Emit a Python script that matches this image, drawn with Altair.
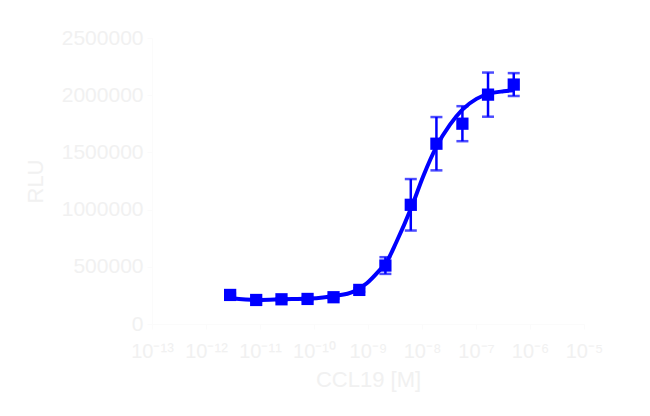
import altair as alt
import pandas as pd

# measured points (concentration in M, mean signal, SD)
conc = [2.8e-12, 8.5e-12, 2.5e-11, 7.6e-11, 2.3e-10, 6.9e-10,
        2.1e-9, 6.2e-9, 1.85e-8, 5.6e-8, 1.67e-7, 5.0e-7]
mean = [254000, 210000, 216000, 219000, 234000, 298000,
        511000, 1042000, 1576000, 1751000, 2005000, 2093000]
sd = [12000, 10000, 10000, 10000, 12000, 15000,
      73000, 225000, 233000, 153000, 193000, 100000]

# fitted curve
curve_x = [3.0e-12, 9.3e-12, 2.7e-11, 8.1e-11, 2.4e-10, 5.4e-10, 9.5e-10,
           1.66e-9, 2.14e-9, 3.39e-9, 6.3e-9, 1.05e-8, 1.86e-8, 3.3e-8,
           5.6e-8, 1.02e-7, 1.7e-7, 3.24e-7, 5.0e-7]
curve_y = [225000, 210000, 216000, 222000, 245000, 283000, 356000,
           473000, 532000, 721000, 1013000, 1290000, 1553000, 1743000,
           1874000, 1968000, 2011000, 2034000, 2043000]

x_ticks = [1e-13, 1e-12, 1e-11, 1e-10, 1e-9, 1e-8, 1e-7, 1e-6, 1e-5]
x_tick_labels = ["10⁻¹³", "10⁻¹²", "10⁻¹¹", "10⁻¹⁰", "10⁻⁹", "10⁻⁸", "10⁻⁷", "10⁻⁶", "10⁻⁵"]
y_ticks = [0, 500000, 1000000, 1500000, 2000000, 2500000]

x_title = "CCL19 [M]"
y_title = "RLU"

pts = pd.DataFrame({"conc": conc, "mean": mean, "sd": sd})
pts["lo"] = pts["mean"] - pts["sd"]
pts["hi"] = pts["mean"] + pts["sd"]
fit = pd.DataFrame({"conc": curve_x, "y": curve_y})

BLUE = "#0000ff"
TXT = "#f1f1f1"
FONT = "Liberation Sans"

label_expr = "[" + ",".join("'" + s + "'" for s in x_tick_labels) + "][round(log(datum.value)/LN10) + 13]"

xscale = alt.Scale(type="log", domain=[1e-13, 1e-5])
yscale = alt.Scale(domain=[0, 2500000])

xaxis = alt.Axis(values=x_ticks, labelExpr=label_expr, title=x_title, grid=False,
                 labelFontSize=20, titleFontSize=22, labelPadding=12, titlePadding=8,
                 labelOverlap=False, labelFlush=False,
                 labelColor=TXT, titleColor=TXT, domainColor="#fbfbfb", tickColor="#fbfbfb",
                 labelFont=FONT, titleFont=FONT, titleFontWeight="normal", tickSize=5)
yaxis = alt.Axis(values=y_ticks, format="d", title=y_title, grid=False,
                 labelFontSize=21, titleFontSize=22, labelPadding=4, titlePadding=14,
                 labelOverlap=False, labelFlush=False,
                 labelColor=TXT, titleColor=TXT, domainColor="#fbfbfb", tickColor="#fbfbfb",
                 labelFont=FONT, titleFont=FONT, titleFontWeight="normal", tickSize=5)

line = alt.Chart(fit).mark_line(color=BLUE, strokeWidth=4, interpolate="monotone").encode(
    x=alt.X("conc:Q", scale=xscale, axis=xaxis),
    y=alt.Y("y:Q", scale=yscale, axis=yaxis),
)

bars = alt.Chart(pts).mark_rule(color=BLUE, strokeWidth=2.5).encode(
    x=alt.X("conc:Q", scale=xscale),
    y=alt.Y("lo:Q", scale=yscale),
    y2="hi:Q",
)
cap_lo = alt.Chart(pts).mark_tick(color=BLUE, orient="horizontal", size=12, thickness=2.5).encode(
    x=alt.X("conc:Q", scale=xscale),
    y=alt.Y("lo:Q", scale=yscale),
)
cap_hi = alt.Chart(pts).mark_tick(color=BLUE, orient="horizontal", size=12, thickness=2.5).encode(
    x=alt.X("conc:Q", scale=xscale),
    y=alt.Y("hi:Q", scale=yscale),
)
marks = alt.Chart(pts).mark_point(shape="square", filled=True, color=BLUE, size=150, opacity=1).encode(
    x=alt.X("conc:Q", scale=xscale),
    y=alt.Y("mean:Q", scale=yscale),
)

chart = alt.layer(line, bars, cap_lo, cap_hi, marks).properties(
    width=432, height=286,
    autosize=alt.AutoSizeParams(type="none"),
    padding={"left": 144, "top": 30, "right": 50, "bottom": 88},
    background="white",
).configure_view(stroke=None)

chart.save("out.html", embed_options={"renderer": "svg", "actions": False})
